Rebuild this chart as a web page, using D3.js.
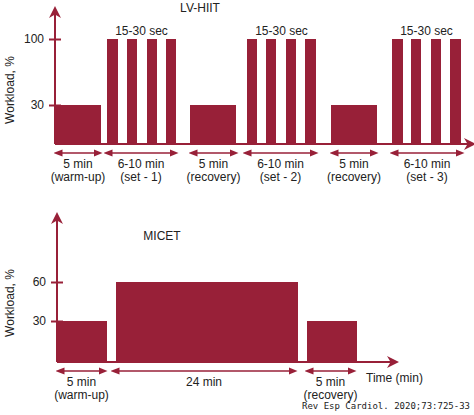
<!DOCTYPE html><html><head><meta charset="utf-8"><script src="https://cdn.jsdelivr.net/npm/d3@7"></script>
<style>body{margin:0;background:#fff}text{font-family:"Liberation Sans",Arial,sans-serif;fill:#222}</style></head><body><svg id="c" width="474" height="415"></svg><script>
const color="#982038";
const hiitBlocks=[{s:0,e:46,w:30},{s:52,e:63,w:100},{s:72,e:82,w:100},{s:92,e:102,w:100},{s:111,e:121,w:100},
 {s:135,e:181,w:30},{s:192,e:202,w:100},{s:211,e:221,w:100},{s:231,e:241,w:100},{s:250,e:261,w:100},
 {s:276,e:322,w:30},{s:337,e:348,w:100},{s:356,e:366,w:100},{s:376,e:386,w:100},{s:395,e:406,w:100}];
const hiitSpans=[{s:1,e:45,l1:"5 min",l2:"(warm-up)"},{s:51,e:121,l1:"6-10 min",l2:"(set - 1)"},{s:136,e:181,l1:"5 min",l2:"(recovery)"},
 {s:190,e:261,l1:"6-10 min",l2:"(set  - 2)"},{s:277,e:321,l1:"5 min",l2:"(recovery)"},{s:337,e:407,l1:"6-10 min",l2:"(set  - 3)"}];
const hiitTicks=[30,100];
const secLabels=[{s:52,e:121},{s:192,e:261},{s:337,e:406}];
const micetBlocks=[{s:0,e:50,w:30},{s:59,e:241,w:60},{s:250,e:300,w:30}];
const micetSpans=[{s:1,e:48,l1:"5 min",l2:"(warm-up)"},{s:56,e:238,l1:"24 min",l2:""},{s:250,e:297,l1:"5 min",l2:"(recovery)"}];
const micetTicks=[30,60];
const svg=d3.select("#c");
const defs=svg.append("defs");
function mk(id,path){defs.append("marker").attr("id",id).attr("viewBox","0 0 10 10").attr("refX",5).attr("refY",5).attr("markerWidth",6).attr("markerHeight",6).attr("orient","auto-start-reverse").append("path").attr("d",path).attr("fill",color);}
mk("ah","M0,1 L10,5 L0,9 z");
mk("big","M0,0 L10,5 L0,10 L3,5 z");
function panel(o){
 const g=svg.append("g");
 const x=d3.scaleLinear().domain([0,1]).range([o.x0,o.x0+1]);
 const y=d3.scaleLinear().domain([0].concat(o.ticks)).range(o.yr);
 g.selectAll(".b").data(o.blocks).join("rect").attr("x",d=>x(d.s)).attr("width",d=>x(d.e)-x(d.s)).attr("y",d=>y(d.w)).attr("height",d=>y(0)-y(d.w)).attr("fill",color);
 g.append("line").attr("x1",o.x0).attr("x2",o.xEnd).attr("y1",y(0)).attr("y2",y(0)).attr("stroke",color).attr("stroke-width",2).attr("marker-end","url(#big)");
 g.append("line").attr("x1",o.x0).attr("x2",o.x0).attr("y1",y(0)).attr("y2",o.top).attr("stroke",color).attr("stroke-width",2).attr("marker-end","url(#big)");
 const ax=d3.axisLeft(y).tickValues(o.ticks).tickSize(12).tickPadding(5);
 const a=g.append("g").attr("transform",`translate(${o.x0+6},0)`).call(ax);
 a.select(".domain").remove();
 a.selectAll("line").attr("stroke",color).attr("stroke-width",2);
 a.selectAll("text").attr("font-size",12).attr("fill","#222").attr("font-family","Liberation Sans,Arial");
 g.append("text").attr("transform",`translate(14,${o.labelY}) rotate(-90)`).attr("text-anchor","middle").attr("font-size",12).text("Workload, %");
 g.append("text").attr("x",o.titleX).attr("y",o.titleY).attr("font-size",12).attr("text-anchor","middle").text(o.title);
 const sp=g.selectAll(".s").data(o.spans).join("g");
 sp.append("line").attr("x1",d=>x(d.s)+2).attr("x2",d=>x(d.e)-2).attr("y1",o.arrY).attr("y2",o.arrY).attr("stroke",color).attr("stroke-width",1.5).attr("marker-start","url(#ah)").attr("marker-end","url(#ah)");
 sp.append("text").attr("x",d=>(x(d.s)+x(d.e))/2).attr("y",o.arrY+15).attr("text-anchor","middle").attr("font-size",12).text(d=>d.l1);
 sp.append("text").attr("x",d=>(x(d.s)+x(d.e))/2).attr("y",o.arrY+28).attr("text-anchor","middle").attr("font-size",12).text(d=>d.l2);
 return {g,x};
}
const p1=panel({x0:55,xEnd:470,yr:[144,105,39],top:12,blocks:hiitBlocks,spans:hiitSpans,ticks:hiitTicks,labelY:90,title:"LV-HIIT",titleX:200,titleY:12,arrY:153});
p1.g.selectAll(".sec").data(secLabels).join("text").attr("x",d=>(p1.x(d.s)+p1.x(d.e))/2).attr("y",35).attr("text-anchor","middle").attr("font-size",12).text("15-30 sec");
const p2=panel({x0:57,xEnd:393,yr:[362,321,282],top:218,blocks:micetBlocks,spans:micetSpans,ticks:micetTicks,labelY:303,title:"MICET",titleX:162,titleY:240,arrY:371});
svg.append("text").attr("x",366).attr("y",382).attr("font-size",12).text("Time (min)");
svg.append("text").attr("x",470).attr("y",409).attr("text-anchor","end").attr("font-size",9).style("font-family","DejaVu Sans Mono").text("Rev Esp Cardiol. 2020;73:725-33");
</script></body></html>
